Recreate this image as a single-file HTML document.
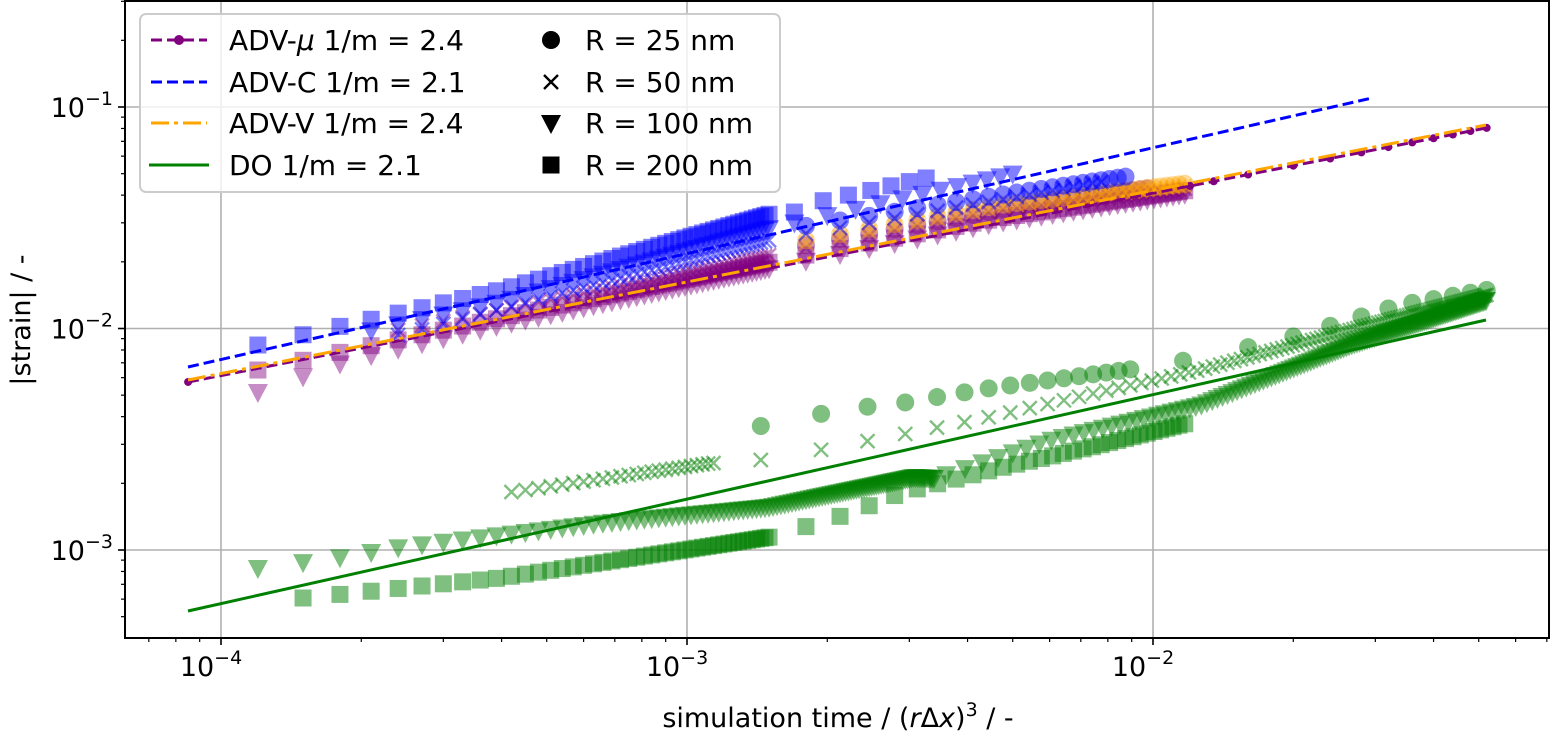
<!DOCTYPE html>
<html><head><meta charset="utf-8"><style>
html,body{margin:0;padding:0;background:#fff;}
svg{display:block;font-family:"DejaVu Sans","Liberation Sans",sans-serif;}
</style></head><body>
<svg id="s" width="1551" height="738" viewBox="0 0 1551 738" xmlns="http://www.w3.org/2000/svg"></svg>
<script>
const S=document.getElementById('s');let h='';
const X=t=>221+466*(Math.log10(t)+4);
const Y=v=>107+221.5*(-1-Math.log10(v));
const L=125,R=1549,T=1,B=638;
h+=`<defs><clipPath id="c"><rect x="${L}" y="${T}" width="${R-L}" height="${B-T}"/></clipPath></defs>`;
[1e-4,1e-3,1e-2].forEach(t=>h+=`<line x1="${X(t)}" x2="${X(t)}" y1="${T}" y2="${B}" stroke="#b0b0b0" stroke-width="1.6"/>`);
[1e-1,1e-2,1e-3].forEach(v=>h+=`<line x1="${L}" x2="${R}" y1="${Y(v)}" y2="${Y(v)}" stroke="#b0b0b0" stroke-width="1.6"/>`);
for(let d=-5;d<=-1;d++)for(let m=1;m<10;m++){const t=m*10**d,x=X(t);if(x<L||x>R)continue;h+=`<line x1="${x}" x2="${x}" y1="${B}" y2="${B+(m==1?7:4)}" stroke="#000" stroke-width="${m==1?1.6:1.2}"/>`;}
for(let d=-4;d<=0;d++)for(let m=1;m<10;m++){const v=m*10**d,y=Y(v);if(y<T||y>B)continue;h+=`<line x1="${L}" x2="${L-(m==1?7:4)}" y1="${y}" y2="${y}" stroke="#000" stroke-width="${m==1?1.6:1.2}"/>`;}
[[1e-4,'−4'],[1e-3,'−3'],[1e-2,'−2']].forEach(([t,e])=>h+=`<text x="${X(t)-10}" y="${B+38}" font-size="27" text-anchor="middle">10<tspan font-size="19" dy="-12">${e}</tspan></text>`);
[[1e-1,'−1'],[1e-2,'−2'],[1e-3,'−3']].forEach(([v,e])=>h+=`<text x="${L-12}" y="${Y(v)+10}" font-size="27" text-anchor="end">10<tspan font-size="19" dy="-12">${e}</tspan></text>`);
h+=`<text x="838" y="727" font-size="27" text-anchor="middle">simulation time / (<tspan font-style="italic">r</tspan>Δ<tspan font-style="italic">x</tspan>)<tspan font-size="19" dy="-11">3</tspan><tspan dy="11"> / -</tspan></text>`;
h+=`<text transform="translate(30,320) rotate(-90)" font-size="27" text-anchor="middle">|strain| / -</text>`;
const rng=(a,b,s)=>{let r=[];for(let t=a;t<=b*1.0001;t+=s)r.push(t);return r;};
const A=rng(9e-5,1.5e-3,3e-5),Bt=rng(1.8e-3,1.2e-2,3.3e-4),C=rng(1.6e-2,5.2e-2,4e-3);
function interp(an,x){if(x<=an[0][0])return an[0][1];for(let i=1;i<an.length;i++){if(x<=an[i][0]){const [x0,y0]=an[i-1],[x1,y1]=an[i];return y0+(y1-y0)*(x-x0)/(x1-x0);}}return an[an.length-1][1];}
function mk(type,x,y,col,op){
 if(type=='o')return `<circle cx="${x}" cy="${y}" r="9" fill="${col}" fill-opacity="${op}"/>`;
 if(type=='s')return `<rect x="${x-8.5}" y="${y-8.5}" width="17" height="17" fill="${col}" fill-opacity="${op}"/>`;
 if(type=='v')return `<polygon points="${x-10},${y-8} ${x+10},${y-8} ${x},${y+11}" fill="${col}" fill-opacity="${op}"/>`;
 if(type=='x')return `<path d="M${x-7},${y-7}L${x+7},${y+7}M${x-7},${y+7}L${x+7},${y-7}" stroke="${col}" stroke-opacity="${op}" stroke-width="2.4"/>`;
}
function ser(type,col,op,times,an){let o='';times.forEach(t=>{const x=X(t);if(x<an[0][0]-2||x>an[an.length-1][0]+2)return;o+=mk(type,x,interp(an,x),col,op);});return o;}
let g='';
g+=ser('s','green',0.5,A.concat(Bt),[[305,598],[500,578],[770,537],[815,524],[851,513],[901,493],[1000,468],[1100,445],[1200,420]]);
g+=ser('v','green',0.5,rng(9e-5,3.4e-3,3e-5).concat(rng(3.6e-3,5.2e-2,3.5e-4)),[[258,568],[342,557],[400,547],[600,523],[768,507],[914,477],[935,478],[1050,440],[1200,405],[1350,345],[1486,300]]);
g+=ser('x','green',0.5,A,[[512,492],[712,463]]);
g+=ser('x','green',0.5,rng(1.44e-3,5.2e-2,5e-4),[[761,460],[820,450],[900,435],[1000,415],[1100,392],[1200,370],[1350,330],[1486,295]]);
g+=ser('o','green',0.5,rng(1.44e-3,1.1e-2,5e-4),[[761,426],[820,414],[865,407],[902,403],[984,389],[1133,369]]);
g+=ser('o','green',0.5,C.concat([1.16e-2]),[[1182,361],[1240,349],[1288,338],[1323,328],[1400,305],[1486,290]]);
g+=ser('s','#800080',0.45,A.concat(Bt),[[203,375],[258,370],[500,318],[770,262],[1000,218],[1190,190]]);
g+=ser('v','#800080',0.45,A.concat(Bt),[[203,380],[258,392],[350,360],[500,325],[770,268],[1000,222],[1190,193]]);
g+=ser('x','#800080',0.45,A.concat(Bt),[[400,330],[770,255],[1000,210],[1190,188]]);
g+=ser('o','#800080',0.45,Bt,[[780,250],[1000,210],[1150,188]]);
g+=ser('o','orange',0.4,Bt,[[780,245],[1000,205],[1200,182]]);
g+=ser('x','orange',0.4,Bt,[[780,248],[1000,207],[1200,184]]);
g+=ser('s','blue',0.5,A.concat(rng(1.7e-3,4.2e-3,2.6e-4)),[[203,358],[258,345],[500,290],[770,214],[795,212],[825,200],[873,190],[925,178]]);
g+=ser('v','blue',0.5,A.concat(rng(1.7e-3,7e-3,3e-4)),[[350,335],[500,302],[770,228],[1020,172]]);
g+=ser('x','blue',0.5,A.concat(Bt),[[400,335],[770,240],[1000,200],[1100,182]]);
g+=ser('o','blue',0.5,Bt,[[780,230],[1000,195],[1130,176]]);
g+=`<line x1="188" y1="382" x2="1486" y2="128" stroke="#800080" stroke-width="3" stroke-dasharray="11,5"/>`;
C.concat([8.5e-5,1.2e-2,1.35e-2]).forEach(t=>{const x=X(t);g+=`<circle cx="${x}" cy="${382+(x-188)*(128-382)/(1486-188)}" r="4" fill="#800080"/>`;});
g+=`<line x1="188" y1="380" x2="1486" y2="125" stroke="orange" stroke-width="3" stroke-dasharray="18,5,4,5"/>`;
g+=`<line x1="188" y1="367" x2="1372" y2="98" stroke="blue" stroke-width="3" stroke-dasharray="11,5"/>`;
g+=`<line x1="188" y1="611" x2="1486" y2="320" stroke="green" stroke-width="3"/>`;
h+=`<g clip-path="url(#c)">${g}</g>`;
h+=`<rect x="${L}" y="${T}" width="${R-L}" height="${B-T}" fill="none" stroke="#000" stroke-width="2"/>`;
h+=`<rect x="140" y="14" width="640" height="178" rx="6" fill="#fff" fill-opacity="0.8" stroke="#ccc" stroke-width="2"/>`;
const ly=[40,82,123,165];
h+=`<line x1="151" x2="207" y1="40" y2="40" stroke="#800080" stroke-width="3" stroke-dasharray="11,5"/><circle cx="179" cy="40" r="5" fill="#800080"/>`;
h+=`<line x1="151" x2="207" y1="82" y2="82" stroke="blue" stroke-width="3" stroke-dasharray="11,5"/>`;
h+=`<line x1="151" x2="207" y1="123" y2="123" stroke="orange" stroke-width="3" stroke-dasharray="18,5,4,5"/>`;
h+=`<line x1="149" x2="209" y1="165" y2="165" stroke="green" stroke-width="3"/>`;
const lt=['ADV-<tspan font-style="italic">μ</tspan> 1/m = 2.4','ADV-C 1/m = 2.1','ADV-V 1/m = 2.4','DO 1/m = 2.1'];
lt.forEach((t,i)=>h+=`<text x="229" y="${ly[i]+10}" font-size="28">${t}</text>`);
['o','x','v','s'].forEach((m,i)=>h+=mk(m,551,ly[i],'#000',1));
['R = 25 nm','R = 50 nm','R = 100 nm','R = 200 nm'].forEach((t,i)=>h+=`<text x="585" y="${ly[i]+10}" font-size="28">${t}</text>`);
S.innerHTML=h;
</script>
</body></html>
